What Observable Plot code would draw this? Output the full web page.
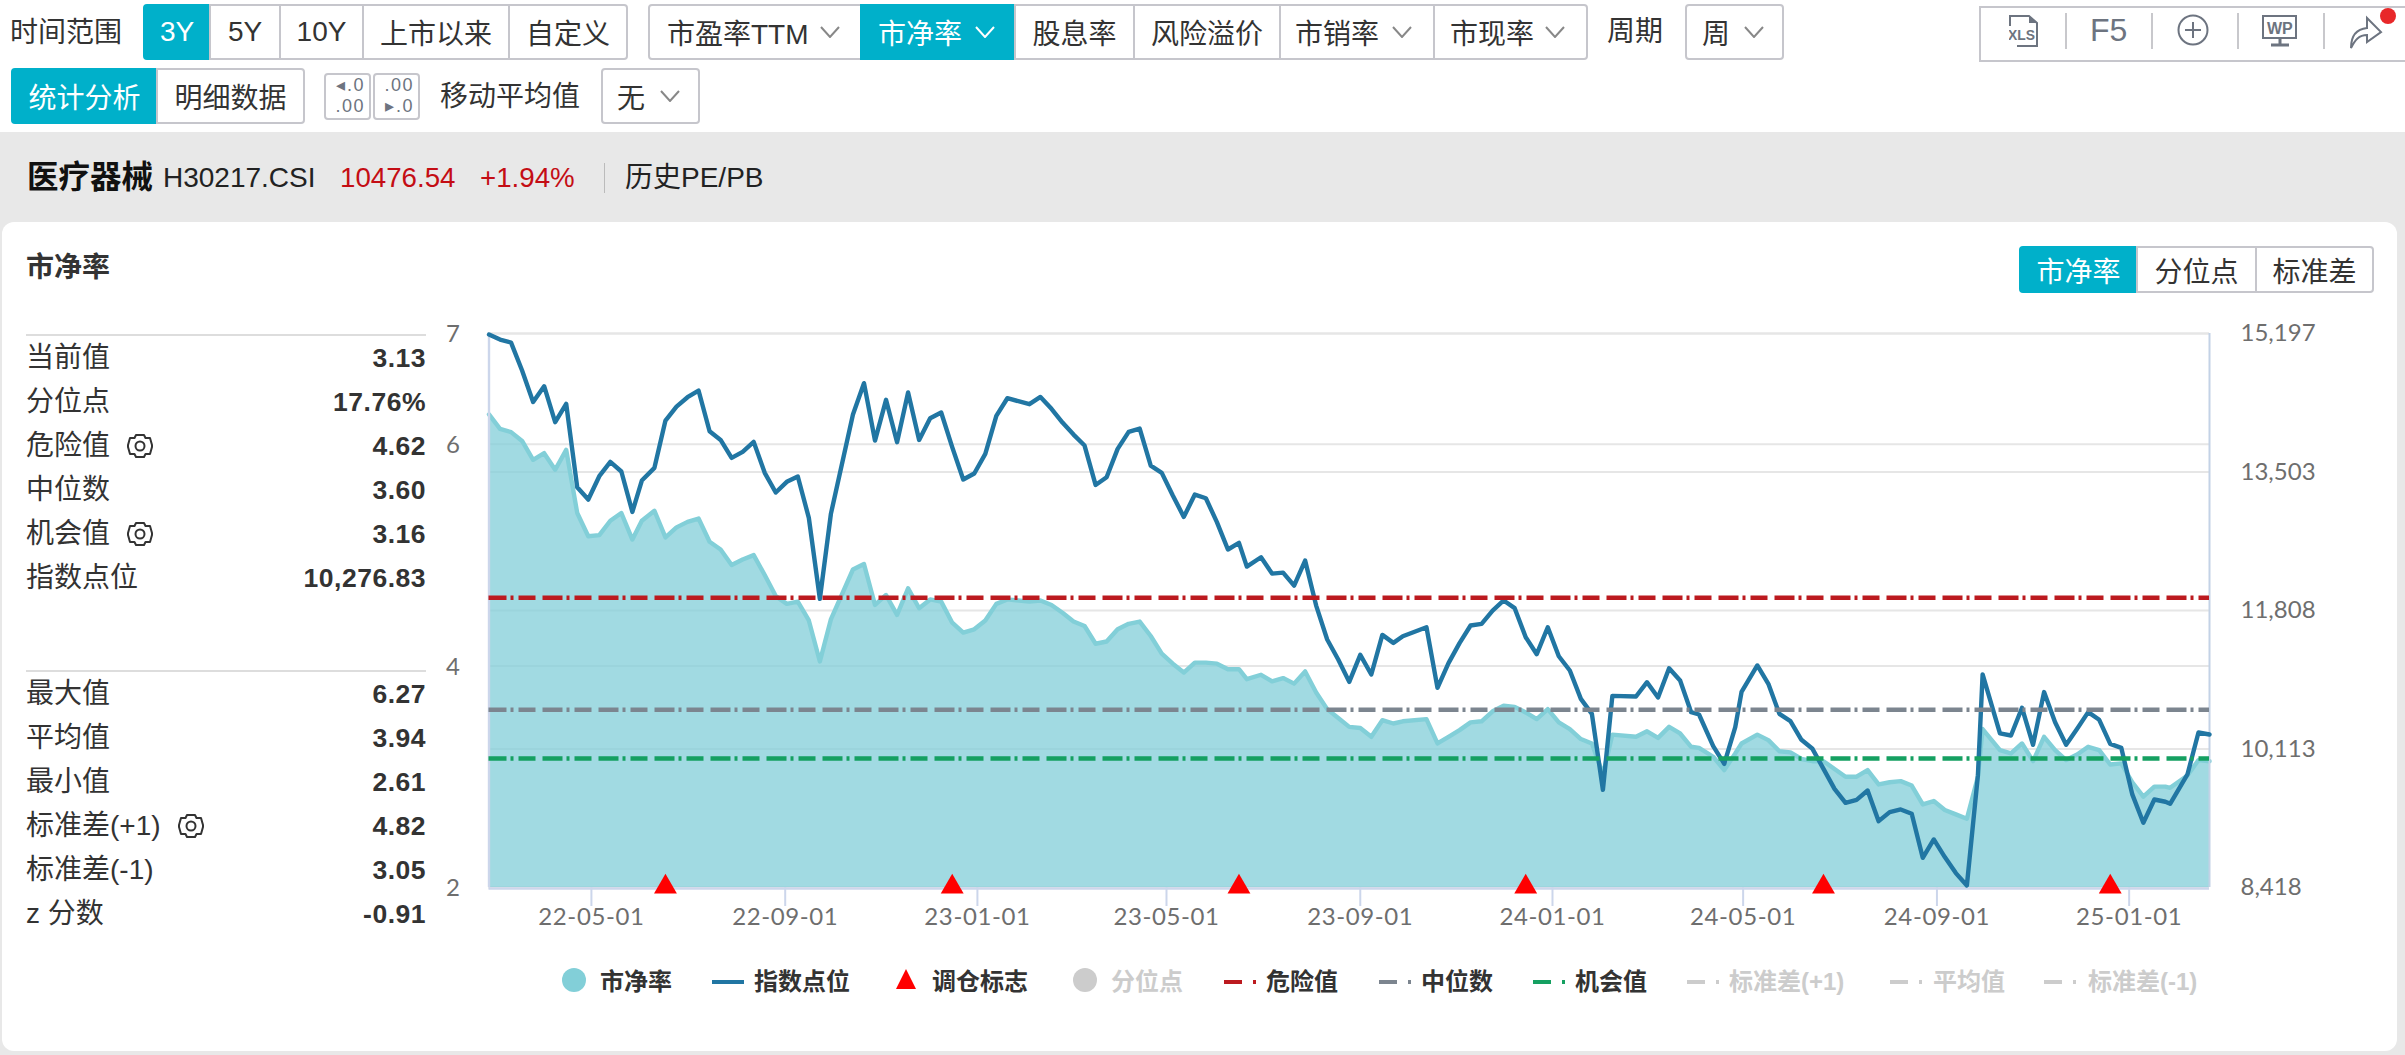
<!DOCTYPE html>
<html lang="zh">
<head>
<meta charset="utf-8">
<script src="https://cdn.jsdelivr.net/npm/d3@7"></script>
<script src="https://cdn.jsdelivr.net/npm/@observablehq/plot@0.6"></script>
<style>
html,body{margin:0;padding:0;width:2405px;height:1055px;overflow:hidden;background:#e8e8e8;
  font-family:"Liberation Sans","Noto Sans CJK SC",sans-serif;color:#333;}
.abs{position:absolute;white-space:nowrap;box-sizing:border-box;}
.btn{position:absolute;box-sizing:border-box;border:2px solid #c6c6cc;background:#fff;display:flex;align-items:center;
  font-size:28px;color:#333;white-space:nowrap;}
.on{background:#00b0ca;color:#fff;border-color:#00b0ca;}
#plot{position:absolute;left:0;top:300px;}
#plot svg{display:block;background:transparent;}
</style>
</head>
<body>
<div id="root"></div>
<div id="plot"></div>
<script>
// ---- chart data ----
const dates = [
"2022-02-25","2022-03-04","2022-03-11","2022-03-18","2022-03-25","2022-04-01","2022-04-08","2022-04-15","2022-04-22","2022-04-29",
"2022-05-06","2022-05-13","2022-05-20","2022-05-27","2022-06-02","2022-06-10","2022-06-17","2022-06-24","2022-07-01","2022-07-08",
"2022-07-15","2022-07-22","2022-07-29","2022-08-05","2022-08-12","2022-08-19","2022-08-26","2022-09-02","2022-09-09","2022-09-16",
"2022-09-23","2022-09-30","2022-10-14","2022-10-21","2022-10-28","2022-11-04","2022-11-11","2022-11-18","2022-11-25","2022-12-02",
"2022-12-09","2022-12-16","2022-12-23","2022-12-30","2023-01-06","2023-01-13","2023-01-20","2023-02-03","2023-02-10","2023-02-17",
"2023-02-24","2023-03-03","2023-03-10","2023-03-17","2023-03-24","2023-03-31","2023-04-07","2023-04-14","2023-04-21","2023-04-28",
"2023-05-05","2023-05-12","2023-05-19","2023-05-26","2023-06-02","2023-06-09","2023-06-16","2023-06-21","2023-06-30","2023-07-07",
"2023-07-14","2023-07-21","2023-07-28","2023-08-04","2023-08-11","2023-08-18","2023-08-25","2023-09-01","2023-09-08","2023-09-15",
"2023-09-22","2023-09-28","2023-10-13","2023-10-20","2023-10-27","2023-11-03","2023-11-10","2023-11-17","2023-11-24","2023-12-01",
"2023-12-08","2023-12-15","2023-12-22","2023-12-29","2024-01-05","2024-01-12","2024-01-19","2024-01-26","2024-02-02","2024-02-08",
"2024-02-23","2024-03-01","2024-03-08","2024-03-15","2024-03-22","2024-03-29","2024-04-03","2024-04-12","2024-04-19","2024-04-26",
"2024-04-30","2024-05-10","2024-05-17","2024-05-24","2024-05-31","2024-06-07","2024-06-14","2024-06-21","2024-06-28","2024-07-05",
"2024-07-12","2024-07-19","2024-07-26","2024-08-02","2024-08-09","2024-08-16","2024-08-23","2024-08-30","2024-09-06","2024-09-13",
"2024-09-20","2024-09-27","2024-09-30","2024-10-11","2024-10-18","2024-10-25","2024-11-01","2024-11-08","2024-11-15","2024-11-22",
"2024-11-29","2024-12-06","2024-12-13","2024-12-20","2024-12-27","2025-01-03","2025-01-10","2025-01-17","2025-01-24","2025-01-27",
"2025-02-07","2025-02-14","2025-02-21"];
const pbValues = [
6.27,6.14,6.11,6.03,5.86,5.92,5.77,5.95,5.38,5.17,
5.18,5.31,5.38,5.14,5.31,5.40,5.16,5.25,5.30,5.33,
5.12,5.05,4.91,4.96,5.00,4.82,4.63,4.56,4.58,4.41,
4.04,4.42,4.87,4.92,4.55,4.64,4.46,4.70,4.52,4.60,
4.58,4.39,4.30,4.33,4.41,4.56,4.60,4.58,4.59,4.55,
4.48,4.40,4.36,4.20,4.22,4.33,4.38,4.40,4.27,4.11,
4.02,3.94,4.03,4.03,4.02,3.97,3.97,3.88,3.92,3.86,
3.89,3.84,3.95,3.76,3.61,3.53,3.45,3.44,3.36,3.51,
3.48,3.50,3.52,3.30,3.36,3.42,3.49,3.50,3.59,3.64,
3.63,3.58,3.52,3.61,3.49,3.43,3.34,3.30,3.02,3.38,
3.36,3.41,3.35,3.45,3.39,3.27,3.26,3.18,3.06,3.21,
3.30,3.38,3.33,3.23,3.22,3.16,3.14,3.14,3.07,3.00,
3.00,3.06,2.93,2.95,2.96,2.92,2.75,2.78,2.70,2.66,
2.62,3.00,3.43,3.24,3.21,3.30,3.14,3.36,3.24,3.15,
3.20,3.27,3.24,3.11,3.12,2.95,2.82,2.91,2.91,2.90,
3.01,3.15,3.14];
const indexValues = [
15184,15123,15086,14744,14360,14552,14112,14336,13316,13165,
13451,13626,13508,13014,13398,13553,14132,14303,14417,14499,
14001,13895,13675,13749,13871,13492,13251,13382,13447,12941,
11950,12990,14205,14589,13887,14385,13867,14475,13895,14160,
14230,13806,13410,13484,13724,14189,14405,14332,14421,14275,
14107,13960,13826,13344,13438,13785,13993,14034,13581,13492,
13214,12953,13226,13181,12888,12554,12635,12345,12459,12259,
12271,12112,12418,11868,11452,11208,10934,11265,11024,11509,
11411,11493,11603,10861,11163,11408,11624,11644,11807,11930,
11836,11481,11273,11603,11248,11073,10726,10542,9613,10763,
10755,10930,10743,11101,10950,10563,10535,10147,9931,10380,
10812,11135,10910,10543,10454,10225,10115,9870,9625,9454,
9491,9605,9230,9340,9373,9320,8781,9006,8790,8594,
8443,9789,11025,10303,10278,10617,10164,10809,10441,10164,
10360,10564,10470,10176,10127,9557,9210,9495,9467,9442,
9801,10315,10290];
const rebalanceDates = ["2022-06-17","2022-12-16","2023-06-16","2023-12-15","2024-06-21","2024-12-20"];
const dangerValue = 4.62, medianValue = 3.60, chanceValue = 3.16;
const leftTicks = [7,6,4,2];
const rightTicks = [15197,13503,11808,10113,8418];
const xTicks = ["2022-05-01","2022-09-01","2023-01-01","2023-05-01","2023-09-01","2024-01-01","2024-05-01","2024-09-01","2025-01-01"];
const statsTop = [["当前值","3.13"],["分位点","17.76%"],["危险值","4.62"],["中位数","3.60"],["机会值","3.16"],["指数点位","10,276.83"]];
const statsBottom = [["最大值","6.27"],["平均值","3.94"],["最小值","2.61"],["标准差(+1)","4.82"],["标准差(-1)","3.05"],["z 分数","-0.91"]];

if (dates.length!==pbValues.length||dates.length!==indexValues.length) throw new Error("length "+dates.length+" "+pbValues.length+" "+indexValues.length);

// ---- page chrome ----
const root = document.getElementById("root");
function put(x,y,html,css=""){const d=document.createElement("div");d.className="abs";d.style.cssText=`left:${x}px;top:${y}px;`+css;d.innerHTML=html;root.appendChild(d);return d;}
function btn(x0,x1,y0,y1,html,opts={}){const d=document.createElement("div");d.className="btn"+(opts.on?" on":"");
  d.style.cssText=`left:${x0}px;top:${y0}px;width:${x1-x0}px;height:${y1-y0}px;justify-content:${opts.tx!=null?"flex-start":"center"};`+
  (opts.tx!=null?`padding-left:${opts.tx-x0-2}px;`:"")+(opts.css||"");d.innerHTML=html;root.appendChild(d);return d;}
function chev(x,y,color="#888"){put(x-10,y-6,`<svg width="20" height="12" style="display:block"><polyline points="1,1 10,11 19,1" fill="none" stroke="${color}" stroke-width="2"/></svg>`);}
const gear=(x,y)=>put(x-13,y-13,`<svg width="26" height="26" viewBox="-13 -13 26 26" style="display:block"><path d="M-4,-11 L4,-11 L5.5,-8 L10,-8 L12,-1 L12,1 L10,8 L5.5,8 L4,11 L-4,11 L-5.5,8 L-10,8 L-12,1 L-12,-1 L-10,-8 L-5.5,-8 Z" fill="none" stroke="#333" stroke-width="2" stroke-linejoin="round"/><circle r="4.5" fill="none" stroke="#333" stroke-width="2"/></svg>`);

put(0,0,"",`width:2405px;height:132px;background:#fff;`);
put(2,222,"",`width:2395px;height:829px;background:#fff;border-radius:12px;`);

put(10,13,"时间范围",`font-size:28px;line-height:40px;`);
btn(143,211,4,60,"3Y",{on:1,css:"border-radius:4px 0 0 4px;"});
btn(209,281,4,60,"5Y");btn(279,364,4,60,"10Y");btn(362,510,4,60,"上市以来");btn(508,628,4,60,"自定义",{css:"border-radius:0 4px 4px 0;"});
btn(648,862,4,60,"市盈率TTM",{tx:667,css:"border-radius:4px 0 0 4px;"});chev(830,32);
btn(860,1016,4,60,"市净率",{on:1,tx:878});chev(985,32,"#fff");
btn(1014,1135,4,60,"股息率");btn(1133,1281,4,60,"风险溢价");
btn(1279,1435,4,60,"市销率",{tx:1295});chev(1402,32);
btn(1433,1588,4,60,"市现率",{tx:1450,css:"border-radius:0 4px 4px 0;"});chev(1555,32);
put(1607,12,"周期",`font-size:28px;line-height:40px;`);
btn(1685,1784,4,60,"周",{tx:1702,css:"border-radius:4px;"});chev(1754,32);

put(1979,6,"",`width:426px;height:56px;border:2px solid #c6c6cc;border-right:none;background:#fff;`);
[2065,2151,2237,2323].forEach(x=>put(x,13,"",`width:2px;height:36px;background:#c8c8cc;`));
put(2009,14,`<svg width="30" height="34" style="display:block"><path d="M1,12 V2 H20 L28,9 V32 H8" fill="none" stroke="#6d7480" stroke-width="2"/><path d="M20,2 L28,9 L20,9Z" fill="#6d7480"/><text x="-1" y="26" font-size="15" font-weight="700" fill="#6d7480" font-family="Liberation Sans" textLength="27" lengthAdjust="spacingAndGlyphs">XLS</text></svg>`);
put(2090,12,"F5",`font-size:32px;line-height:36px;color:#6d7480;`);
put(2177,14,`<svg width="32" height="32" style="display:block"><circle cx="16" cy="16" r="14.5" fill="none" stroke="#6d7480" stroke-width="2"/><path d="M16,8V24M8,16H24" stroke="#6d7480" stroke-width="2"/></svg>`);
put(2262,15,`<svg width="36" height="32" style="display:block"><rect x="1" y="1" width="33" height="22" fill="none" stroke="#6d7480" stroke-width="2"/><text x="5" y="19" font-size="16" font-weight="700" fill="#6d7480" font-family="Liberation Sans">WP</text><path d="M18,23V29M9,30H27" stroke="#6d7480" stroke-width="3"/></svg>`);
put(2349,15,`<svg width="34" height="34" style="display:block"><path d="M2,33 C2,20 8,14 18,13 V3 L32,17 L18,27 V20 C10,20 6,25 2,33Z" fill="none" stroke="#6d7480" stroke-width="2"/></svg>`);
put(2380,8,"",`width:16px;height:16px;border-radius:50%;background:#e8282a;`);

btn(11,158,68,124,"统计分析",{on:1,css:"border-radius:4px 0 0 4px;"});
btn(156,305,68,124,"明细数据",{css:"border-radius:0 4px 4px 0;"});
const decBox=(x,a,b)=>{btn(x,x+47,73,120,"",{css:"border-radius:4px;"});put(x+1,75,`<div style="text-align:right;width:40px;font-size:18px;line-height:21px;letter-spacing:1.5px;color:#6d7480;">${a}<br>${b}</div>`);};
decBox(324,"◂.0",".00");decBox(373,".00","▸.0");
put(440,77,"移动平均值",`font-size:28px;line-height:40px;`);
btn(601,700,68,124,"无",{tx:617,css:"border-radius:4px;"});chev(670,96);

put(27,158,"医疗器械",`font-size:31.5px;line-height:38px;font-weight:700;color:#111;`);
put(163,160,"H30217.CSI",`font-size:28px;line-height:36px;color:#222;`);
put(340,160,"10476.54",`font-size:27.7px;line-height:36px;color:#c40d14;`);
put(480,160,"+1.94%",`font-size:27.7px;line-height:36px;color:#c40d14;`);
put(604,163,"",`width:1px;height:30px;background:#bbb;`);
put(625,160,"历史PE/PB",`font-size:28px;line-height:36px;color:#222;`);

put(26,249,"市净率",`font-size:28px;line-height:38px;font-weight:700;color:#333;`);
btn(2019,2138,246,293,"市净率",{on:1,css:"border-radius:4px 0 0 4px;"});
btn(2136,2257,246,293,"分位点");
btn(2255,2374,246,293,"标准差",{css:"border-radius:0 4px 4px 0;"});

function stats(list,lineY){
  put(26,lineY,"",`width:400px;height:2px;background:#ddd;`);
  list.forEach((r,i)=>{const cy=lineY+22+44*i+2;
    put(26,cy-20,r[0],`font-size:28px;line-height:40px;color:#333;`);
    put(126,cy-20,r[1],`width:300px;text-align:right;font-size:26.5px;line-height:40px;font-weight:700;color:#333;letter-spacing:.5px;`);
  });
}
stats(statsTop,334);stats(statsBottom,670);
gear(140,446);gear(140,534);gear(191,826);

// ---- legend (below the SVG's plot, as page elements) ----
const LY=982;
const legendText=(x,t,off)=>put(x,LY-18,t,`font-size:24px;line-height:36px;font-weight:700;color:${off?"#ccc":"#333"};`);
const circle=(x,c)=>put(x-12,LY-14,"",`width:24px;height:24px;border-radius:50%;background:${c};`);
const dashItem=(x,c)=>{put(x,LY-2,"",`width:18px;height:4px;background:${c};`);put(x+29,LY-2,"",`width:3px;height:4px;background:${c};`);};
circle(574,"#82cfd8");legendText(600,"市净率");
put(712,LY-2.5,"",`width:32px;height:4px;background:#2176a3;`);legendText(754,"指数点位");
put(896,969,`<svg width="20" height="20" style="display:block"><path d="M10,0 L20,20 L0,20Z" fill="#f00"/></svg>`);legendText(932,"调仓标志");
circle(1085,"#ccc");legendText(1111,"分位点",1);
dashItem(1224,"#bc1a1f");legendText(1266,"危险值");
dashItem(1379,"#7c858f");legendText(1421,"中位数");
dashItem(1533,"#15a061");legendText(1575,"机会值");
dashItem(1687,"#ccc");legendText(1729,"标准差(+1)",1);
dashItem(1890,"#ccc");legendText(1933,"平均值",1);
dashItem(2044,"#ccc");legendText(2088,"标准差(-1)",1);

// ---- chart ----
const idx2pb = d3.scaleLinear().domain([8418,15197]).range([2,7]);
const pb2idx = idx2pb.invert;
const rows = dates.map((d,i)=>({date:new Date(d),pb:pbValues[i],idx:indexValues[i]}));
const xStart = new Date("2022-02-25"), xEnd = new Date("2025-02-21");
const dash = {strokeWidth:4.4,strokeDasharray:"17 7 20 4 3 5",strokeDashoffset:26};
const chart = Plot.plot({
  width:2405,height:640,marginTop:33,marginBottom:53,marginLeft:488.5,marginRight:196,
  style:{background:"transparent",fontFamily:"Lato,'Liberation Sans',sans-serif"},
  x:{type:"utc",domain:[xStart,xEnd]},
  y:{domain:[2,7]},
  marks:[
    Plot.ruleY(leftTicks,{stroke:"#e6e6e6",strokeWidth:2}),
    Plot.ruleY(rightTicks,{y:d=>idx2pb(d),stroke:"#e6e6e6",strokeWidth:2}),
    Plot.areaY(rows,{x:"date",y1:()=>2,y2:"pb",fill:"#81cdd8",fillOpacity:.75,curve:"linear"}),
    Plot.lineY(rows,{x:"date",y:"pb",stroke:"#82cfd8",strokeWidth:4.4}),
    Plot.ruleX([xStart],{y1:2,y2:7,stroke:"#ccd6eb",strokeWidth:2.4}),
    Plot.ruleX([xEnd],{y1:2,y2:7,stroke:"#c3d2e6",strokeWidth:2}),
    Plot.ruleY([2],{stroke:"#ccd6eb",strokeWidth:2.4,dy:1}),
    Plot.lineY(rows,{x:"date",y:d=>idx2pb(d.idx),stroke:"#2176a3",strokeWidth:4.4}),
    Plot.ruleY([dangerValue],{stroke:"#bc1a1f",...dash,dy:0.5}),
    Plot.ruleY([medianValue],{stroke:"#7c858f",...dash,dy:-0.5}),
    Plot.ruleY([chanceValue],{stroke:"#15a061",...dash,dy:-0.5}),
    Plot.dot(rebalanceDates.map(d=>new Date(d)),{x:d=>d,y:()=>2,symbol:"triangle",r:8.5,dy:-0.5,fill:"#f00",stroke:"none"}),
    Plot.axisX(xTicks.map(d=>new Date(d)),{anchor:"bottom",tickFormat:d3.utcFormat("%y-%m-%d"),tickSize:19,tickPadding:1,stroke:"#ccd6eb",strokeWidth:2,fill:"#6e6e6e",fontSize:24,label:null}),
    Plot.axisY(leftTicks,{anchor:"left",tickSize:0,tickPadding:29,dy:1,fill:"#6e6e6e",fontSize:24,label:null,tickFormat:d=>String(d)}),
    Plot.axisY(rightTicks.map(idx2pb),{anchor:"right",tickSize:0,tickPadding:31,fill:"#6e6e6e",fontSize:24,label:null,tickFormat:p=>d3.format(",")(Math.round(pb2idx(p)))})
  ]
});
chart.querySelectorAll('[aria-label="x-axis tick label"] text').forEach(t=>t.style.letterSpacing=".6px");
document.getElementById("plot").appendChild(chart);
</script>
</body>
</html>
